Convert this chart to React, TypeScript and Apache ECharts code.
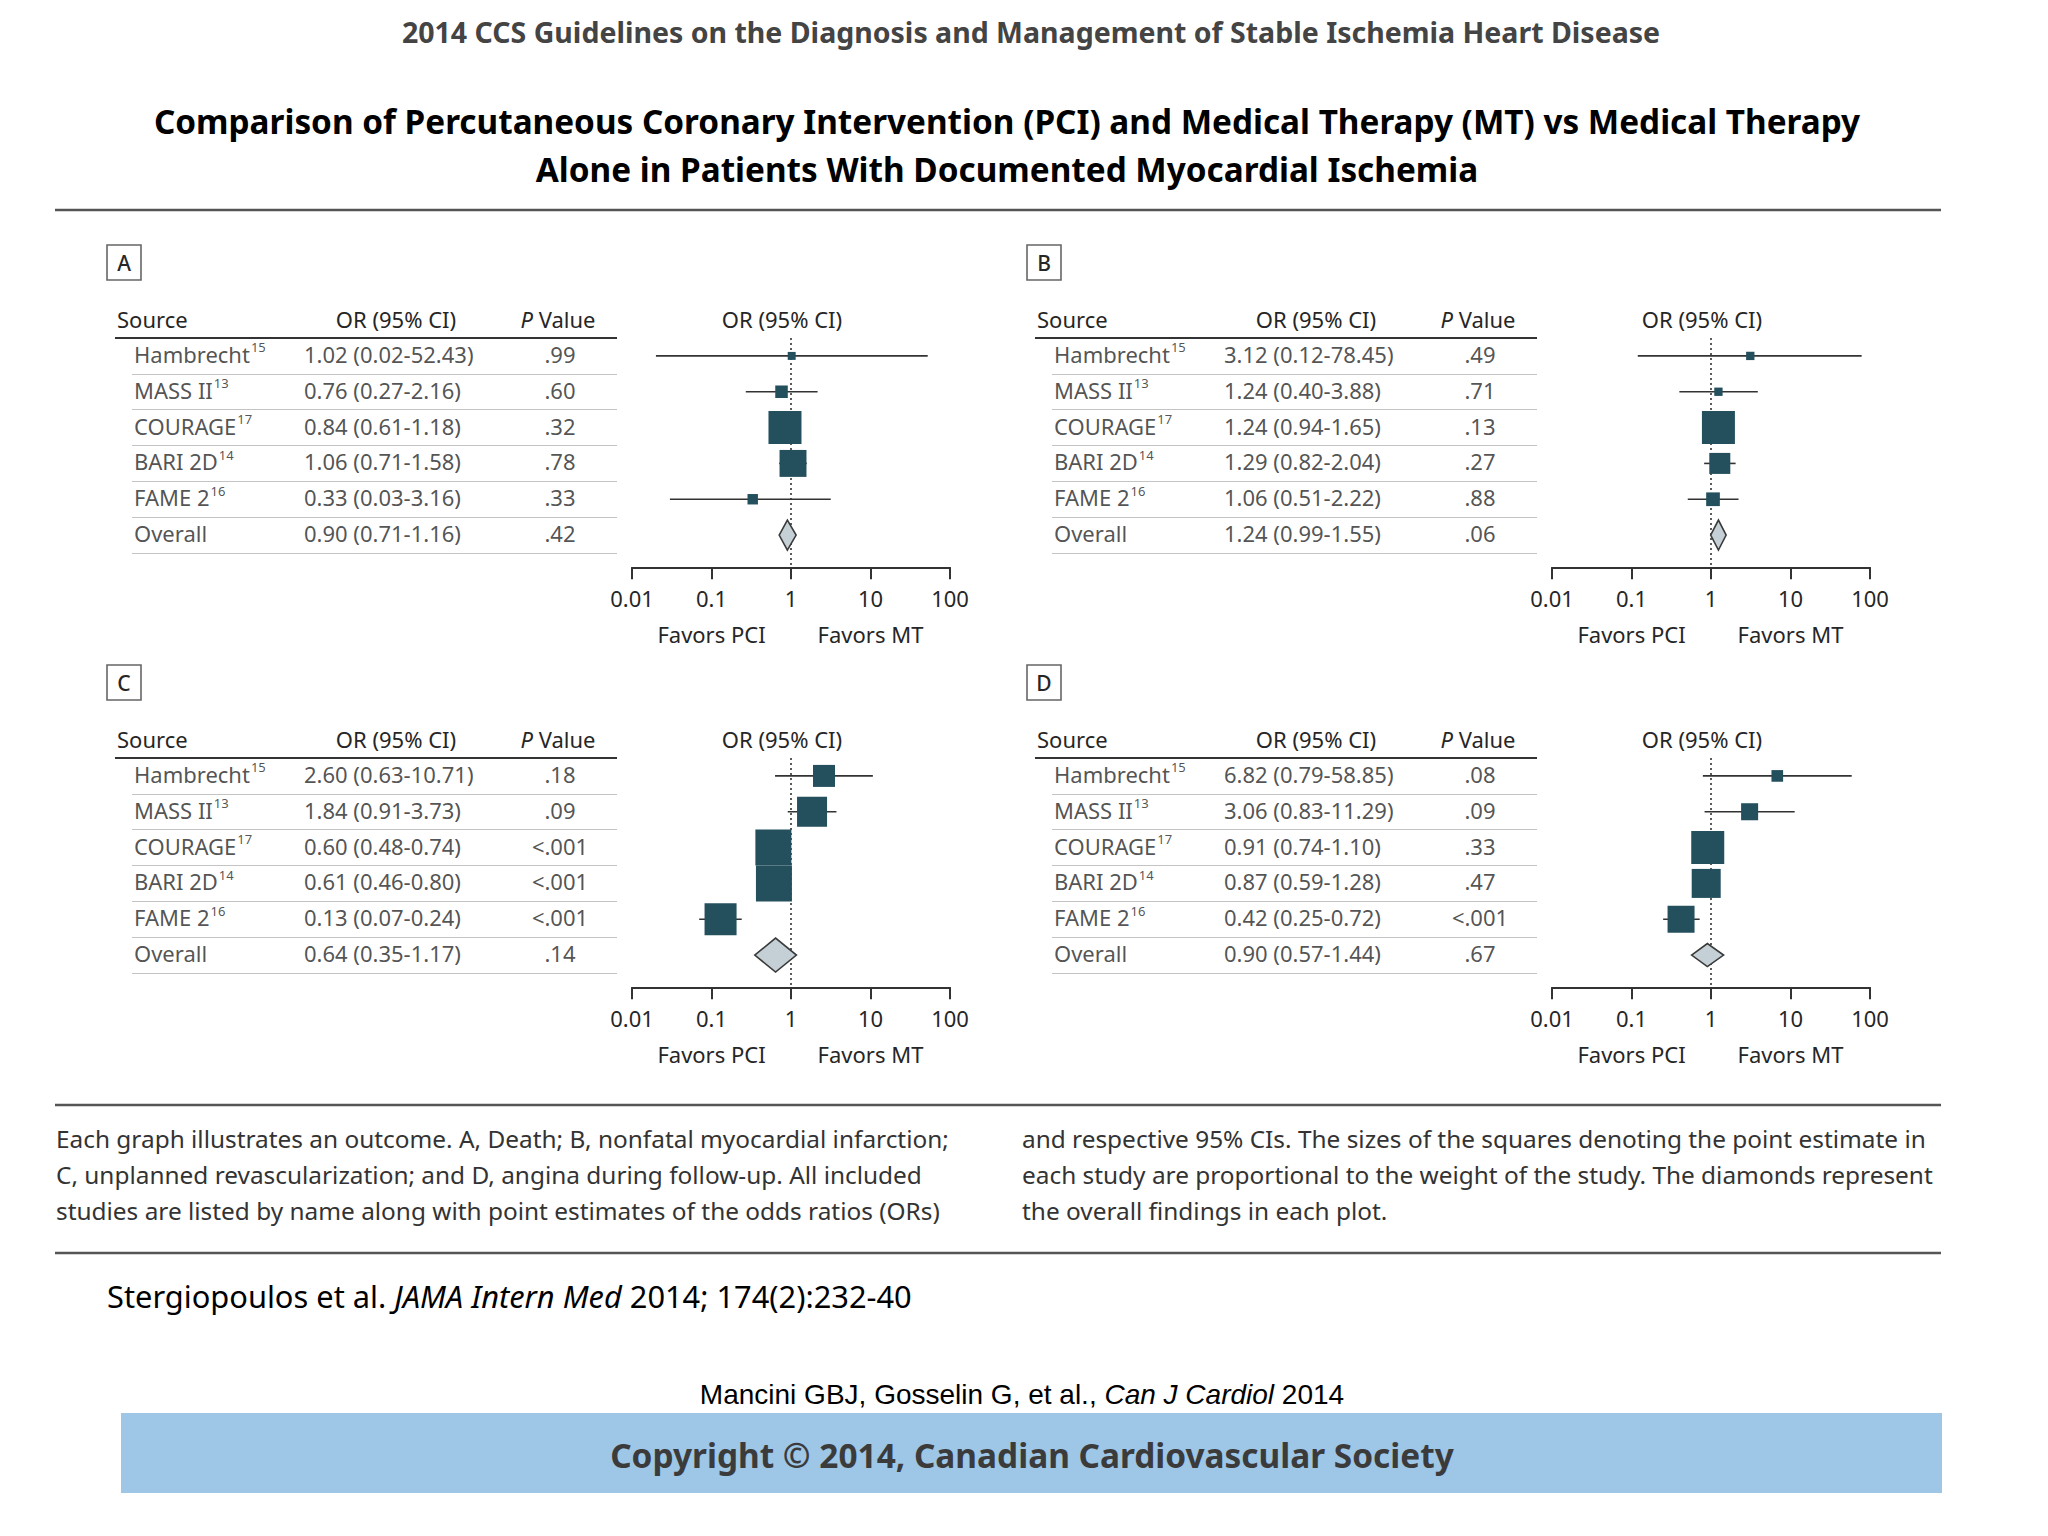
import React, { useEffect, useRef } from 'react';
import * as echarts from 'echarts';

// ---------------- DATA ----------------
const STUDIES = ['Hambrecht', 'MASS II', 'COURAGE', 'BARI 2D', 'FAME 2', 'Overall'];
const REFS = ['15', '13', '17', '14', '16', ''];
const PANEL_LABELS = ['A', 'B', 'C', 'D'];
const TICK_VALUES = [0.01, 0.1, 1, 10, 100];
const TICK_LABELS = ['0.01', '0.1', '1', '10', '100'];
const FAVORS_AT = [0.1, 10];
const FAVORS_LABELS = ['Favors PCI', 'Favors MT'];

// A, Death
const OR_A = [1.02, 0.76, 0.84, 1.06, 0.33, 0.9];
const LO_A = [0.02, 0.27, 0.61, 0.71, 0.03, 0.71];
const HI_A = [52.43, 2.16, 1.18, 1.58, 3.16, 1.16];
const P_A = ['.99', '.60', '.32', '.78', '.33', '.42'];
const W_A = [2.1, 5.2, 36, 24, 3.6];

// B, nonfatal myocardial infarction
const OR_B = [3.12, 1.24, 1.24, 1.29, 1.06, 1.24];
const LO_B = [0.12, 0.4, 0.94, 0.82, 0.51, 0.99];
const HI_B = [78.45, 3.88, 1.65, 2.04, 2.22, 1.55];
const P_B = ['.49', '.71', '.13', '.27', '.88', '.06'];
const W_B = [2.3, 2.3, 36, 14.6, 6.2];

// C, unplanned revascularization
const OR_C = [2.6, 1.84, 0.6, 0.61, 0.13, 0.64];
const LO_C = [0.63, 0.91, 0.48, 0.46, 0.07, 0.35];
const HI_C = [10.71, 3.73, 0.74, 0.8, 0.24, 1.17];
const P_C = ['.18', '.09', '<.001', '<.001', '<.001', '.14'];
const W_C = [16, 29.8, 42.8, 42.8, 33.9];

// D, angina during follow-up
const OR_D = [6.82, 3.06, 0.91, 0.87, 0.42, 0.9];
const LO_D = [0.79, 0.83, 0.74, 0.59, 0.25, 0.57];
const HI_D = [58.85, 11.29, 1.1, 1.28, 0.72, 1.44];
const P_D = ['.08', '.09', '.33', '.47', '<.001', '.67'];
const W_D = [4.5, 9.6, 36, 27.8, 24.1];

const HEADER = '2014 CCS Guidelines on the Diagnosis and Management of Stable Ischemia Heart Disease';
const TITLE_1 = 'Comparison of Percutaneous Coronary Intervention (PCI) and Medical Therapy (MT) vs Medical Therapy';
const TITLE_2 = 'Alone in Patients With Documented Myocardial Ischemia';
const CAPTION_LEFT = [
  'Each graph illustrates an outcome. A, Death; B, nonfatal myocardial infarction;',
  'C, unplanned revascularization; and D, angina during follow-up. All included',
  'studies are listed by name along with point estimates of the odds ratios (ORs)',
];
const CAPTION_RIGHT = [
  'and respective 95% CIs. The sizes of the squares denoting the point estimate in',
  'each study are proportional to the weight of the study. The diamonds represent',
  'the overall findings in each plot.',
];

// ---------------- LAYOUT / STYLE ----------------
const FONT = 'Noto Sans';
const TXT = '#262626';
const SQUARE = '#24505e';
const ROW_H = 215 / 6;
const L = {
  boxX: 107, boxY: 245, boxW: 34, boxH: 35,
  headY: 318.5, sourceX: 117, orHeadX: 396, pHeadX: 558, plotHeadX: 782,
  ruleX1: 115, ruleX2: 617, tableLeft: 132, tableW: 485, top: 338,
  plotLeft: 632, plotW: 318,
  colName: 2, colOr: 172, colP: 428,
};
const PANEL_OFFSETS = [[0, 0], [920, 0], [0, 420], [920, 420]];
const DIAMOND_H = [30, 30, 34, 23];
const BOX_SCALE = 5.5;

const PANELS = [
  { or: OR_A, lo: LO_A, hi: HI_A, p: P_A, w: W_A },
  { or: OR_B, lo: LO_B, hi: HI_B, p: P_B, w: W_B },
  { or: OR_C, lo: LO_C, hi: HI_C, p: P_C, w: W_C },
  { or: OR_D, lo: LO_D, hi: HI_D, p: P_D, w: W_D },
];

const fmtCI = (o: number, l: number, h: number) => `${o.toFixed(2)} (${l.toFixed(2)}-${h.toFixed(2)})`;
const tickLabel = (v: number) => {
  const i = TICK_VALUES.findIndex((t) => Math.abs(Math.log10(t) - Math.log10(v)) < 1e-6);
  return i >= 0 ? TICK_LABELS[i] : '';
};
const favorsLabel = (v: number) => {
  const i = FAVORS_AT.findIndex((t) => Math.abs(Math.log10(t) - Math.log10(v)) < 1e-6);
  return i >= 0 ? FAVORS_LABELS[i] : '';
};

function buildOption() {
  const grid: any[] = [];
  const xAxis: any[] = [];
  const yAxis: any[] = [];
  const series: any[] = [];
  const graphic: any[] = [];

  const textStyle = (extra: any) => ({ fontFamily: FONT, fill: TXT, ...extra });

  PANELS.forEach((pd, p) => {
    const [dx, dy] = PANEL_OFFSETS[p];
    const top = L.top + dy;
    grid.push({ left: L.tableLeft + dx, top, width: L.tableW, height: ROW_H * 6 });
    grid.push({ left: L.plotLeft + dx, top, width: L.plotW, height: ROW_H * 6.4 });
    const gT = 2 * p, gP = 2 * p + 1;
    xAxis.push({ type: 'value', gridIndex: gT, min: 0, max: L.tableW, show: false });
    xAxis.push({
      type: 'log', logBase: 10, gridIndex: gP, min: 0.01, max: 100, interval: 1, position: 'bottom',
      axisLine: { show: true, onZero: false, lineStyle: { color: '#333', width: 2 } },
      axisTick: { show: true, length: 12, lineStyle: { color: '#333', width: 2 } },
      splitLine: { show: false }, minorTick: { show: false },
      axisLabel: { margin: 20, fontFamily: FONT, fontSize: 22, color: TXT, formatter: tickLabel },
    });
    xAxis.push({
      type: 'log', logBase: 10, gridIndex: gP, min: 0.01, max: 100, interval: 1, position: 'bottom',
      axisLine: { show: false, onZero: false }, axisTick: { show: false }, splitLine: { show: false },
      axisLabel: { margin: 56, fontFamily: FONT, fontSize: 22, color: TXT, formatter: favorsLabel, showMinLabel: true, showMaxLabel: true },
    });
    yAxis.push({
      type: 'value', gridIndex: gT, min: 0, max: 6, interval: 1, inverse: true,
      axisLine: { show: false }, axisTick: { show: false }, axisLabel: { show: false },
      splitLine: { show: true, lineStyle: { color: '#c4c4c4', width: 1.2 } },
    });
    yAxis.push({ type: 'value', gridIndex: gP, min: 0, max: 6.4, inverse: true, show: false });

    const xT = 3 * p, xP = 3 * p + 1;
    const yT = 2 * p, yP = 2 * p + 1;

    const tableLabel = (align: string) => ({
      show: true, position: 'inside', align, verticalAlign: 'middle', offset: [0, -2],
      fontFamily: FONT, fontSize: 22, color: TXT,
    });
    series.push({
      type: 'scatter', xAxisIndex: xT, yAxisIndex: yT, symbolSize: 0, silent: true,
      itemStyle: { color: 'transparent' },
      data: STUDIES.map((s, i) => ({ value: [L.colName, i + 0.5], name: s })),
      label: {
        ...tableLabel('left'),
        formatter: (pr: any) => (REFS[pr.dataIndex] ? `{n|${pr.name}}{s|${REFS[pr.dataIndex]}}` : `{n|${pr.name}}`),
        rich: {
          n: { fontFamily: FONT, fontSize: 22, color: TXT, lineHeight: 26 },
          s: { fontFamily: FONT, fontSize: 13, color: TXT, lineHeight: 19, verticalAlign: 'top', padding: [0, 0, 0, 1] },
        },
      },
    });
    series.push({
      type: 'scatter', xAxisIndex: xT, yAxisIndex: yT, symbolSize: 0, silent: true,
      itemStyle: { color: 'transparent' },
      data: STUDIES.map((s, i) => ({ value: [L.colOr, i + 0.5], name: fmtCI(pd.or[i], pd.lo[i], pd.hi[i]) })),
      label: { ...tableLabel('left'), formatter: '{b}' },
    });
    series.push({
      type: 'scatter', xAxisIndex: xT, yAxisIndex: yT, symbolSize: 0, silent: true,
      itemStyle: { color: 'transparent' },
      data: STUDIES.map((s, i) => ({ value: [L.colP, i + 0.5], name: pd.p[i] })),
      label: { ...tableLabel('center'), formatter: '{b}' },
    });

    series.push({
      type: 'line', xAxisIndex: xP, yAxisIndex: yP, symbol: 'none', silent: true, z: 1,
      data: [[1, 0], [1, 6.4]],
      lineStyle: { type: [2, 3], color: '#333', width: 1.6 },
    });

    const dh = DIAMOND_H[p];
    series.push({
      type: 'custom', xAxisIndex: xP, yAxisIndex: yP, silent: true, clip: false, z: 3,
      encode: { x: [0, 1, 2], y: 3 },
      data: STUDIES.map((s, i) => [pd.or[i], pd.lo[i], pd.hi[i], i + 0.5, i < 5 ? pd.w[i] : 0, i === 5 ? 1 : 0]),
      renderItem: (params: any, api: any) => {
        const o = api.value(0), lo = api.value(1), hi = api.value(2), y = api.value(3), w = api.value(4), ov = api.value(5);
        const pL = api.coord([lo, y]);
        const pH = api.coord([hi, y]);
        const pO = api.coord([o, y]);
        if (ov) {
          const h = dh / 2;
          return {
            type: 'polygon',
            shape: { points: [[pL[0], pO[1]], [pO[0], pO[1] - h], [pH[0], pO[1]], [pO[0], pO[1] + h]] },
            style: { fill: '#c5d0d6', stroke: '#3a3a3a', lineWidth: 1.6 },
          };
        }
        const s = Math.sqrt(w) * BOX_SCALE;
        return {
          type: 'group',
          children: [
            { type: 'line', shape: { x1: pL[0], y1: pL[1], x2: pH[0], y2: pH[1] }, style: { stroke: '#333', lineWidth: 1.6 } },
            { type: 'rect', shape: { x: pO[0] - s / 2, y: pO[1] - s / 2, width: s, height: s }, style: { fill: SQUARE } },
          ],
        };
      },
    });

    graphic.push({
      type: 'rect', shape: { x: L.boxX + dx, y: L.boxY + dy, width: L.boxW, height: L.boxH },
      style: { fill: '#fff', stroke: '#666', lineWidth: 1.6 },
    });
    graphic.push({
      type: 'text', x: L.boxX + dx + L.boxW / 2, y: L.boxY + dy + L.boxH / 2,
      style: textStyle({ text: PANEL_LABELS[p], fontSize: 21, fontWeight: 500, align: 'center', verticalAlign: 'middle' }),
    });
    graphic.push({
      type: 'text', x: L.sourceX + dx, y: L.headY + dy,
      style: textStyle({ text: 'Source', fontSize: 22, align: 'left', verticalAlign: 'middle' }),
    });
    graphic.push({
      type: 'text', x: L.orHeadX + dx, y: L.headY + dy,
      style: textStyle({ text: 'OR (95% CI)', fontSize: 22, align: 'center', verticalAlign: 'middle' }),
    });
    graphic.push({
      type: 'text', x: L.pHeadX + dx, y: L.headY + dy,
      style: textStyle({
        text: '{i|P}{r| Value}', fontSize: 22, align: 'center', verticalAlign: 'middle',
        rich: {
          i: { fontFamily: FONT, fontSize: 22, fontStyle: 'italic', fill: TXT },
          r: { fontFamily: FONT, fontSize: 22, fill: TXT },
        },
      }),
    });
    graphic.push({
      type: 'text', x: L.plotHeadX + dx, y: L.headY + dy,
      style: textStyle({ text: 'OR (95% CI)', fontSize: 22, align: 'center', verticalAlign: 'middle' }),
    });
    graphic.push({
      type: 'line', z: 10, shape: { x1: L.ruleX1 + dx, y1: top, x2: L.ruleX2 + dx, y2: top },
      style: { stroke: '#333', lineWidth: 2 },
    });
  });

  graphic.push({
    type: 'text', x: 1031, y: 32,
    style: { text: HEADER, fontFamily: FONT, fontSize: 28.5, fontWeight: 'bold', fill: '#444', align: 'center', verticalAlign: 'middle' },
  });
  [TITLE_1, TITLE_2].forEach((t, i) => {
    graphic.push({
      type: 'text', x: 1007, y: 121 + i * 48,
      style: { text: t, fontFamily: FONT, fontSize: 33.3, fontWeight: 'bold', fill: '#000', align: 'center', verticalAlign: 'middle' },
    });
  });
  [210, 1105, 1253].forEach((y) => {
    graphic.push({ type: 'line', shape: { x1: 55, y1: y, x2: 1941, y2: y }, style: { stroke: '#555', lineWidth: 2.5 } });
  });
  CAPTION_LEFT.forEach((t, i) => {
    graphic.push({
      type: 'text', x: 56, y: 1138 + i * 36,
      style: { text: t, fontFamily: FONT, fontSize: 24.4, fill: '#333', align: 'left', verticalAlign: 'middle' },
    });
  });
  CAPTION_RIGHT.forEach((t, i) => {
    graphic.push({
      type: 'text', x: 1022, y: 1138 + i * 36,
      style: { text: t, fontFamily: FONT, fontSize: 24.4, fill: '#333', align: 'left', verticalAlign: 'middle' },
    });
  });
  graphic.push({
    type: 'text', x: 107, y: 1296,
    style: {
      text: '{r|Stergiopoulos et al. }{i|JAMA Intern Med}{r| 2014; 174(2):232-40}',
      align: 'left', verticalAlign: 'middle',
      rich: {
        r: { fontFamily: FONT, fontSize: 30.8, fill: '#000' },
        i: { fontFamily: FONT, fontSize: 30.8, fill: '#000', fontStyle: 'italic' },
      },
    },
  });
  graphic.push({
    type: 'text', x: 1022, y: 1394,
    style: {
      text: '{r|Mancini GBJ, Gosselin G, et al., }{i|Can J Cardiol}{r| 2014}',
      align: 'center', verticalAlign: 'middle',
      rich: {
        r: { fontFamily: 'Liberation Sans', fontSize: 28, fill: '#000' },
        i: { fontFamily: 'Liberation Sans', fontSize: 28, fill: '#000', fontStyle: 'italic' },
      },
    },
  });
  graphic.push({ type: 'rect', shape: { x: 121, y: 1413, width: 1821, height: 80 }, style: { fill: '#9dc6e7' } });
  graphic.push({
    type: 'text', x: 1032, y: 1455,
    style: { text: 'Copyright © 2014, Canadian Cardiovascular Society', fontFamily: FONT, fontSize: 33.4, fontWeight: 'bold', fill: '#3b3b3b', align: 'center', verticalAlign: 'middle' },
  });

  return { animation: false, backgroundColor: '#fff', grid, xAxis, yAxis, series, graphic };
}

export default function App() {
  const ref = useRef<HTMLDivElement>(null);
  useEffect(() => {
    document.body.style.margin = '0';
    const chart = echarts.init(ref.current!, undefined, { renderer: 'svg' });
    chart.setOption(buildOption() as any);
    return () => chart.dispose();
  }, []);
  return <div ref={ref} style={{ width: 2048, height: 1536 }} />;
}
